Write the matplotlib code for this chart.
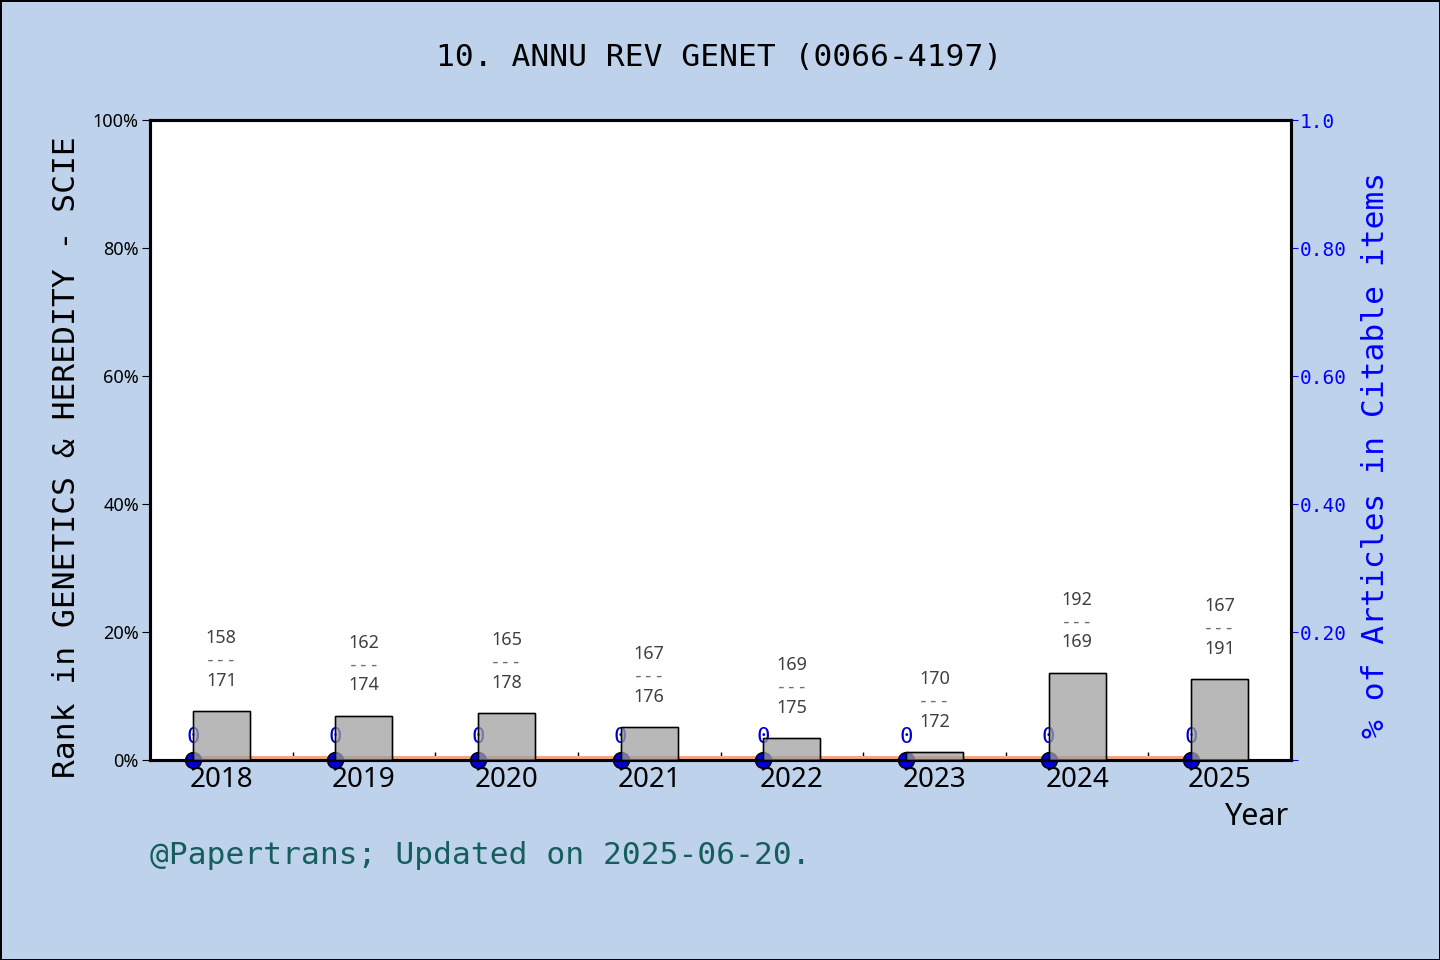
import matplotlib.pyplot as plt
import numpy as np

years = ['2018', '2019', '2020', '2021', '2022', '2023', '2024', '2025']
bar_pct = [7.6, 6.9, 7.3, 5.1, 3.4, 1.2, 13.6, 12.6]
rank_top = ['158', '162', '165', '167', '169', '170', '192', '167']
rank_bottom = ['171', '174', '178', '176', '175', '172', '169', '191']
citable = [0, 0, 0, 0, 0, 0, 0, 0]
right_ticks = [0, 0.2, 0.4, 0.6, 0.8, 1.0]
right_labels = ['', '0.20', '0.40', '0.60', '0.80', '1.0']

bg = '#bed3eb'
mono = 'DejaVu Sans Mono'
sans = 'Noto Sans'

fig = plt.figure(figsize=(14.4, 9.6), dpi=100)
fig.patch.set_facecolor(bg)
fig.patch.set_edgecolor('black')
fig.patch.set_linewidth(2)

ax2 = fig.add_axes([150/1440, 200/960, 1141/1440, 640/960])
ax = ax2.twinx()  # left-scale axes on top so bars cover the dots
ax2.set_facecolor('white')
ax.patch.set_visible(False)

x = np.arange(len(years))

# right axis (citable items): line + dots
ax2.plot(x, citable, color='#f4a582', lw=6.5, zorder=2)
ax2.plot(x, citable, 'o', ms=11.5, mfc='#0000cc', mec='black', mew=1, clip_on=False, zorder=3)
for xi, v in zip(x, citable):
    ax2.annotate(str(v), (xi, v), xytext=(0, 12), textcoords='offset points',
                 ha='center', va='baseline', color='#0000cc', fontsize=16, family=mono)
ax2.set_ylim(0, 1)
ax2.set_xlim(-0.3, 7.7)
ax2.yaxis.tick_right()
ax2.yaxis.set_label_position('right')
ax2.set_yticks(right_ticks)
ax2.set_yticklabels(right_labels, family=mono, fontsize=14, color='blue')
ax2.tick_params(axis='y', colors='blue', direction='out', length=5, pad=1)

# x axis lives on ax2 (twinx hides the other one)
ax2.set_xticks(x + 0.2)
ax2.set_xticklabels(years, family=sans, fontsize=20)
ax2.set_xticks(x + 0.7, minor=True)
ax2.tick_params(axis='x', which='major', length=0, pad=4)
ax2.tick_params(axis='x', which='minor', direction='in', length=6, width=1)

# left axis (rank percentage): bars + labels
ax.yaxis.tick_left()
ax.bar(x, bar_pct, width=0.4, align='edge', color='#a0a0a0', alpha=0.75,
       edgecolor='black', linewidth=1, zorder=4)
ax.bar(x, bar_pct, width=0.4, align='edge', fill=False, edgecolor='black', linewidth=1, zorder=5)
for xi, h, t, b in zip(x, bar_pct, rank_top, rank_bottom):
    ax.annotate(t, (xi + 0.2, h), xytext=(0, 52.5), textcoords='offset points',
                ha='center', va='center', color='#404040', fontsize=13, family=sans)
    ax.annotate('---', (xi + 0.2, h), xytext=(0, 37), textcoords='offset points',
                ha='center', va='center', color='#707070', fontsize=13, family=mono)
    ax.annotate(b, (xi + 0.2, h), xytext=(0, 22), textcoords='offset points',
                ha='center', va='center', color='#404040', fontsize=13, family=sans)
ax.set_ylim(0, 100)
ax.set_yticks([0, 20, 40, 60, 80, 100])
ax.set_yticklabels([f'{v}%' for v in [0, 20, 40, 60, 80, 100]], family=sans, fontsize=13)
ax.tick_params(axis='y', direction='out', length=6, pad=2, left=True, right=False,
               labelleft=True, labelright=False)

for a in (ax, ax2):
    for s in a.spines.values():
        s.set_linewidth(2.2)
        s.set_color('black')

fig.text(719/1440, 1 - 57/960, '10. ANNU REV GENET (0066-4197)', ha='center', va='center',
         family=mono, fontsize=22.5)
fig.text(67/1440, 1 - 457/960, 'Rank in GENETICS & HEREDITY - SCIE', rotation=90,
         ha='center', va='center', family=mono, fontsize=22.5)
fig.text(1375/1440, 1 - 455/960, '% of Articles in Citable items', rotation=90,
         ha='center', va='center', family=mono, fontsize=22.5, color='blue')
fig.text(1288/1440, 1 - 817/960, 'Year', ha='right', va='center', family=sans, fontsize=22)
fig.text(150/1440, 1 - 855/960, '@Papertrans; Updated on 2025-06-20.', ha='left', va='center',
         family=mono, fontsize=22.5, color='#155e5b')

fig.savefig('out.png', dpi=100, facecolor=fig.get_facecolor(), edgecolor=fig.get_edgecolor())
